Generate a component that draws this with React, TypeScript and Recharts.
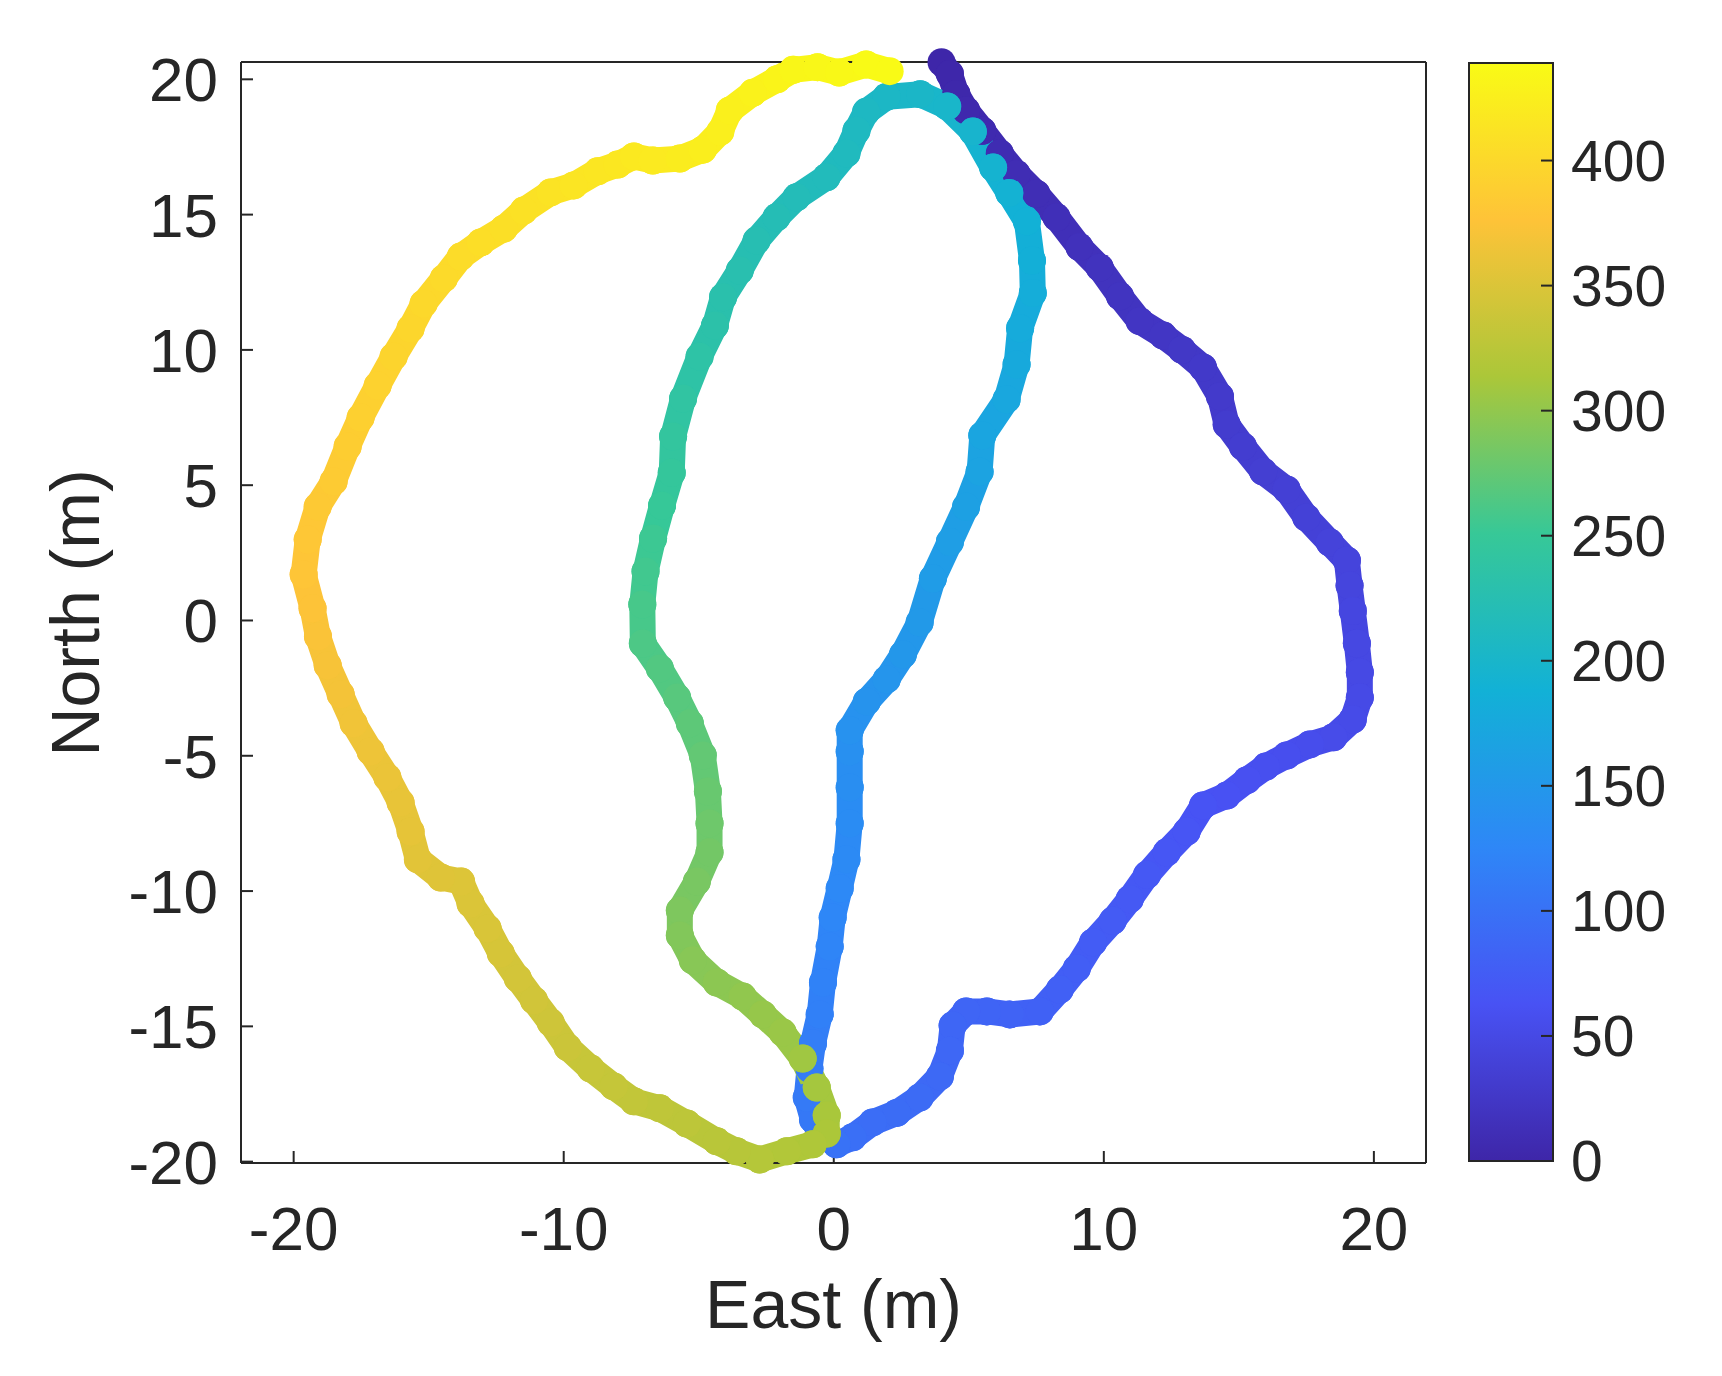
import { ComposedChart, BarChart, Bar, Line, XAxis, YAxis } from 'recharts'

// ── Data ──────────────────────────────────────────────────────────────────────
// Walked track. Four legs in time order:
// right loop down, blue climb, teal/green descent, yellow left loop.

const east = [
  // leg 1
  3.99, 4.3, 4.54, 4.9, 5.5, 6.15, 6.77, 7.5, 8.25, 9.1, 9.85, 10.6, 11.33, 12.2, 12.9, 13.67,
  14.3, 14.55, 15.15, 15.9, 16.77, 17.5, 18.37, 19.0, 19.1, 19.22, 19.37, 19.48, 19.48, 19.22,
  18.5, 17.63, 16.77, 16.0, 15.3, 14.55, 13.67, 13.07, 12.33, 11.6, 10.96, 10.33, 9.6, 9.0,
  8.37, 7.63, 6.52, 5.67, 4.9, 4.4, 4.3, 3.93, 3.18, 2.33, 1.44, 0.7, 0.1,
  // leg 2
  -0.45, -0.77, -1.0, -0.9, -0.77, -0.52, -0.4, -0.15, -0.04, 0.22, 0.47, 0.59, 0.59, 0.59,
  0.59, 1.22, 1.96, 2.56, 3.18, 3.67, 4.3, 4.9, 5.4, 5.5, 6.4, 6.77, 6.9, 7.37, 7.34, 7.15,
  6.5, 5.9, 5.15, 4.2, 3.2, 1.95,
  // leg 3
  1.2, 0.84, 0.47, -0.27, -1.38, -2.12, -2.86, -3.48, -4.1, -4.4, -4.97, -5.58, -5.95, -6.0,
  -6.36, -6.69, -6.97, -7.09, -7.07, -6.44, -5.8, -5.33, -4.85, -4.66, -4.6, -4.6, -5.07,
  -5.7, -5.7, -5.22, -4.33, -3.37, -2.63, -1.89, -1.15, -0.63, -0.26, -0.26, -0.78, -1.74,
  -2.74,
  // leg 4
  -3.6, -4.33, -5.44, -6.44, -7.4, -8.15, -9.0, -9.85, -10.48, -11.1, -11.7, -12.33, -12.82,
  -13.45, -13.8, -14.55, -15.4, -15.67, -16.04, -16.53, -17.15, -17.78, -18.26, -18.74,
  -19.1, -19.3, -19.63, -19.48, -19.11, -18.52, -18.0, -17.52, -16.89, -16.3, -15.67,
  -15.19, -14.44, -13.81, -13.07, -12.22, -11.48, -10.48, -9.63, -8.74, -8.0, -7.4, -6.7,
  -5.7, -4.85, -4.2, -3.85, -3.0, -2.1, -1.5, -0.6, 0.2, 1.2, 2.07,
]

const north = [
  // leg 1
  20.63, 20.2, 19.46, 18.85, 18.1, 17.26, 16.5, 15.77, 14.9, 13.8, 13.04, 11.98, 11.06, 10.53,
  10.0, 9.35, 8.28, 7.24, 6.43, 5.5, 4.84, 3.8, 2.88, 2.22, 1.29, 0.35, -0.85, -1.92, -2.85,
  -3.66, -4.32, -4.58, -4.99, -5.4, -5.9, -6.47, -6.84, -7.8, -8.57, -9.4, -10.3, -11.1,
  -11.9, -12.86, -13.64, -14.45, -14.56, -14.45, -14.45, -14.97, -15.9, -16.85, -17.63,
  -18.2, -18.55, -19.1, -19.36,
  // leg 2
  -19.0, -18.44, -17.63, -16.56, -15.63, -14.56, -13.38, -12.05, -10.98, -9.9, -8.83, -7.5,
  -6.17, -4.84, -4.06, -3.0, -2.18, -1.26, -0.07, 1.55, 2.9, 4.2, 5.5, 6.84, 8.17, 9.46,
  10.8, 12.1, 13.3, 14.75, 15.8, 16.74, 18.07, 19.0, 19.45, 19.35,
  // leg 3
  18.8, 18.1, 17.26, 16.38, 15.64, 14.9, 14.04, 12.93, 11.95, 10.9, 9.75, 8.2, 6.8, 5.46,
  4.24, 3.03, 1.81, 0.59, -0.85, -1.77, -2.85, -3.8, -4.99, -6.32, -7.5, -8.57, -9.65,
  -10.72, -11.64, -12.56, -13.38, -13.9, -14.56, -15.23, -16.19, -17.26, -18.29, -18.96,
  -19.36, -19.62, -19.92,
  // leg 4
  -19.62, -19.25, -18.59, -18.03, -17.77, -17.22, -16.56, -15.78, -14.86, -14.04, -13.23,
  -12.3, -11.38, -10.46, -9.65, -9.5, -8.83, -7.8, -6.73, -5.8, -4.84, -3.8, -2.73, -1.66,
  -0.59, 0.45, 1.7, 2.99, 4.21, 5.14, 6.43, 7.5, 8.68, 9.75, 10.79, 11.71, 12.64, 13.45,
  13.97, 14.48, 15.15, 15.82, 16.08, 16.6, 16.85, 17.15, 17.0, 17.07, 17.4, 18.07, 18.85,
  19.5, 20.0, 20.35, 20.45, 20.25, 20.55, 20.3,
]

// seconds since start, estimated from the colour of each stretch
const seconds = [
  // leg 1
  0, 1, 2, 3, 5, 7, 9, 10, 12, 15, 17, 19, 21, 23, 24, 26, 28, 30, 32, 34, 36, 38, 40, 42,
  43, 45, 47, 49, 50, 52, 53, 55, 57, 58, 60, 61, 63, 65, 67, 69, 70, 72, 74, 76, 78, 80,
  82, 83, 84, 86, 87, 89, 91, 93, 94, 96, 97,
  // leg 2
  105, 107, 108, 111, 113, 116, 118, 121, 124, 127, 129, 132, 135, 138, 140, 143, 145, 148,
  151, 155, 158, 162, 165, 168, 172, 175, 178, 181, 184, 187, 190, 192, 196, 199, 202, 204,
  // leg 3
  207, 209, 211, 214, 217, 220, 222, 226, 228, 231, 234, 238, 242, 245, 248, 252, 255, 258,
  261, 264, 267, 270, 273, 276, 279, 282, 285, 288, 290, 293, 296, 298, 301, 303, 306, 309,
  312, 313, 315, 318, 320,
  // leg 4
  322, 323, 326, 328, 330, 332, 334, 336, 339, 341, 343, 345, 347, 349, 351, 352, 354, 357,
  359, 361, 363, 365, 368, 370, 372, 374, 377, 379, 382, 384, 387, 389, 392, 394, 397, 399,
  401, 403, 405, 407, 409, 411, 413, 415, 416, 418, 419, 421, 423, 425, 426, 428, 430, 432,
  434, 435, 437, 439,
]

const eastTicks  = [-20, -10, 0, 10, 20]
const northTicks = [-20, -15, -10, -5, 0, 5, 10, 15, 20]
const timeTicks  = [0, 50, 100, 150, 200, 250, 300, 350, 400]
const TIME_MAX   = 439

// ── Style ─────────────────────────────────────────────────────────────────────

const INK  = '#262626'
const FONT = '"Liberation Sans", Arial, Helvetica, sans-serif'

// parula, 8 anchors from bottom to top
const PARULA: [number, number, number][] = [
  [62, 38, 168],
  [72, 82, 244],
  [46, 135, 247],
  [18, 177, 214],
  [55, 200, 151],
  [171, 199, 57],
  [254, 195, 56],
  [249, 251, 21],
]

function parula(t: number): string {
  const pos = Math.max(0, Math.min(1, t / TIME_MAX)) * (PARULA.length - 1)
  const i = Math.min(PARULA.length - 2, Math.floor(pos))
  const f = pos - i
  const a = PARULA[i]
  const b = PARULA[i + 1]
  const c = a.map((v, k) => Math.round(v + (b[k] - v) * f))
  return `rgb(${c[0]},${c[1]},${c[2]})`
}

const track = east.map((e, i) => ({ east: e, north: north[i], t: seconds[i] }))

// one short line per step so each step can carry its own colour
const steps = track.slice(1).map((p, i) => ({
  id:    i,
  pts:   [track[i], p],
  color: parula((track[i].t + p.t) / 2),
}))

const tickText = { fill: INK, fontSize: 62, fontFamily: FONT }
const inkLine  = { stroke: INK, strokeWidth: 2 }

// ── Chart ─────────────────────────────────────────────────────────────────────

// plot box: x 241..1426, y 62..1163
function TrackChart() {
  return (
    <ComposedChart
      width={1722}
      height={1376}
      margin={{ top: 52, right: 286, bottom: 133, left: 161 }}
    >
      <XAxis
        type="number"
        dataKey="east"
        domain={[-21.95, 21.93]}
        ticks={eastTicks}
        height={80}
        tickSize={-12}
        tickMargin={55}
        tick={tickText}
        axisLine={inkLine}
        tickLine={inkLine}
      />
      <XAxis
        xAxisId="top"
        orientation="top"
        type="number"
        domain={[-21.95, 21.93]}
        ticks={eastTicks}
        height={10}
        tickSize={-12}
        tick={false}
        axisLine={inkLine}
        tickLine={inkLine}
      />
      <YAxis
        type="number"
        domain={[-20.05, 20.64]}
        ticks={northTicks}
        width={80}
        tickSize={-12}
        tickMargin={35}
        tick={tickText}
        axisLine={inkLine}
        tickLine={inkLine}
      />
      <YAxis
        yAxisId="right"
        orientation="right"
        type="number"
        domain={[-20.05, 20.64]}
        ticks={northTicks}
        width={10}
        tickSize={-12}
        tick={false}
        axisLine={inkLine}
        tickLine={inkLine}
      />

      {steps.map((s) => (
        <Line
          key={s.id}
          data={s.pts}
          dataKey="north"
          type="linear"
          stroke={s.color}
          strokeWidth={26}
          strokeLinecap="round"
          dot={{ r: 14, fill: s.color, stroke: 'none' }}
          activeDot={false}
          isAnimationActive={false}
        />
      ))}
    </ComposedChart>
  )
}

// colour bar: x 1469..1553, y 63..1161
function ColorBar() {
  return (
    <BarChart
      width={322}
      height={1376}
      data={[{ name: 'time', top: TIME_MAX }]}
      margin={{ top: 63, right: 109, bottom: 215, left: 69 }}
      barCategoryGap={0}
    >
      <defs>
        <linearGradient id="parula" x1="0" y1="1" x2="0" y2="0">
          {PARULA.map((c, i) => (
            <stop
              key={i}
              offset={i / (PARULA.length - 1)}
              stopColor={`rgb(${c[0]},${c[1]},${c[2]})`}
            />
          ))}
        </linearGradient>
      </defs>
      <XAxis dataKey="name" hide />
      <YAxis
        orientation="right"
        type="number"
        domain={[0, TIME_MAX]}
        ticks={timeTicks}
        width={60}
        tickSize={-12}
        tickMargin={30}
        tick={{ ...tickText, fontSize: 57 }}
        axisLine={false}
        tickLine={inkLine}
      />
      <Bar
        dataKey="top"
        fill="url(#parula)"
        stroke={INK}
        strokeWidth={2}
        isAnimationActive={false}
      />
    </BarChart>
  )
}

export default function App() {
  return (
    <div
      style={{
        position:   'absolute',
        left:       0,
        top:        0,
        width:      1722,
        height:     1376,
        background: '#fff',
        fontFamily: FONT,
        color:      INK,
      }}
    >
      <div style={{ position: 'absolute', left: 0, top: 0 }}>
        <TrackChart />
      </div>
      <div style={{ position: 'absolute', left: 1400, top: 0 }}>
        <ColorBar />
      </div>

      <div
        style={{
          position:   'absolute',
          left:       433.5,
          top:        1270,
          width:      800,
          textAlign:  'center',
          fontSize:   68,
          lineHeight: '68px',
        }}
      >
        East (m)
      </div>
      <div
        style={{
          position:   'absolute',
          left:       75.4 - 400,
          top:        612.5 - 34,
          width:      800,
          height:     68,
          textAlign:  'center',
          fontSize:   68,
          lineHeight: '68px',
          transform:  'rotate(-90deg)',
        }}
      >
        North (m)
      </div>
    </div>
  )
}
